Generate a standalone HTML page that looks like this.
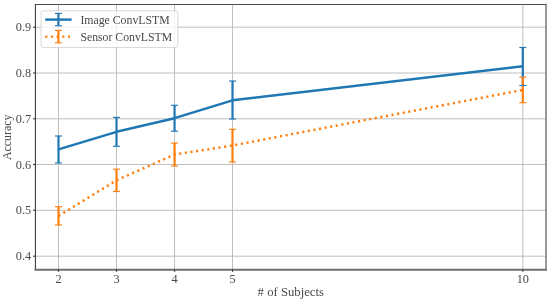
<!DOCTYPE html>
<html lang="en"><head><meta charset="utf-8"><title>Accuracy vs # of Subjects</title>
<style>html,body{margin:0;padding:0;background:#fff;}svg{display:block;}text{font-family:"Liberation Serif","DejaVu Serif",serif;fill:#4a4a4a;}</style></head><body>
<svg width="550" height="302" viewBox="0 0 550 302">
<rect x="0" y="0" width="550" height="302" fill="#ffffff"/>
<g stroke="#b4b4b4" stroke-width="0.85" fill="none">
<line x1="58.50" y1="4.50" x2="58.50" y2="269.45"/>
<line x1="116.50" y1="4.50" x2="116.50" y2="269.45"/>
<line x1="174.55" y1="4.50" x2="174.55" y2="269.45"/>
<line x1="232.50" y1="4.50" x2="232.50" y2="269.45"/>
<line x1="522.80" y1="4.50" x2="522.80" y2="269.45"/>
<line x1="35.45" y1="27.20" x2="545.95" y2="27.20"/>
<line x1="35.45" y1="73.00" x2="545.95" y2="73.00"/>
<line x1="35.45" y1="118.80" x2="545.95" y2="118.80"/>
<line x1="35.45" y1="164.50" x2="545.95" y2="164.50"/>
<line x1="35.45" y1="210.30" x2="545.95" y2="210.30"/>
<line x1="35.45" y1="256.20" x2="545.95" y2="256.20"/>
</g>
<g stroke="#1f77b4" stroke-width="2.20" fill="none">
<line x1="58.50" y1="136.00" x2="58.50" y2="163.00"/>
<line x1="116.50" y1="117.40" x2="116.50" y2="146.30"/>
<line x1="174.55" y1="105.30" x2="174.55" y2="131.20"/>
<line x1="232.50" y1="81.00" x2="232.50" y2="119.00"/>
<line x1="522.80" y1="47.50" x2="522.80" y2="85.50"/>
</g>
<g stroke="#ff7f0e" stroke-width="2.20" fill="none">
<line x1="58.50" y1="206.70" x2="58.50" y2="225.00"/>
<line x1="116.50" y1="169.20" x2="116.50" y2="191.50"/>
<line x1="174.55" y1="143.10" x2="174.55" y2="166.00"/>
<line x1="232.50" y1="129.30" x2="232.50" y2="162.00"/>
<line x1="522.80" y1="77.20" x2="522.80" y2="102.70"/>
</g>
<polyline points="58.50,149.40 116.50,131.80 174.55,118.20 232.50,100.30 522.80,66.30" fill="none" stroke="#1f77b4" stroke-width="2.45" stroke-linejoin="round"/>
<g stroke="#1f77b4" stroke-width="1.15" fill="none">
<line x1="55.00" y1="136.00" x2="62.00" y2="136.00"/>
<line x1="55.00" y1="163.00" x2="62.00" y2="163.00"/>
<line x1="113.00" y1="117.40" x2="120.00" y2="117.40"/>
<line x1="113.00" y1="146.30" x2="120.00" y2="146.30"/>
<line x1="171.05" y1="105.30" x2="178.05" y2="105.30"/>
<line x1="171.05" y1="131.20" x2="178.05" y2="131.20"/>
<line x1="229.00" y1="81.00" x2="236.00" y2="81.00"/>
<line x1="229.00" y1="119.00" x2="236.00" y2="119.00"/>
<line x1="519.30" y1="47.50" x2="526.30" y2="47.50"/>
<line x1="519.30" y1="85.50" x2="526.30" y2="85.50"/>
</g>
<polyline points="58.50,216.00 116.50,180.30 174.55,154.50 232.50,145.50 522.80,89.90" fill="none" stroke="#ff7f0e" stroke-width="2.45" stroke-linejoin="round" stroke-dasharray="2.15 3.53"/>
<g stroke="#ff7f0e" stroke-width="1.15" fill="none">
<line x1="55.00" y1="206.70" x2="62.00" y2="206.70"/>
<line x1="55.00" y1="225.00" x2="62.00" y2="225.00"/>
<line x1="113.00" y1="169.20" x2="120.00" y2="169.20"/>
<line x1="113.00" y1="191.50" x2="120.00" y2="191.50"/>
<line x1="171.05" y1="143.10" x2="178.05" y2="143.10"/>
<line x1="171.05" y1="166.00" x2="178.05" y2="166.00"/>
<line x1="229.00" y1="129.30" x2="236.00" y2="129.30"/>
<line x1="229.00" y1="162.00" x2="236.00" y2="162.00"/>
<line x1="519.30" y1="77.20" x2="526.30" y2="77.20"/>
<line x1="519.30" y1="102.70" x2="526.30" y2="102.70"/>
</g>
<g fill="none" stroke-linecap="square">
<line x1="35.45" y1="4.50" x2="35.45" y2="269.75" stroke="#444444" stroke-width="1.15"/>
<line x1="35.45" y1="4.50" x2="546.00" y2="4.50" stroke="#4c4c4c" stroke-width="1.15"/>
<line x1="35.45" y1="269.75" x2="546.00" y2="269.75" stroke="#6e6e6e" stroke-width="1.8"/>
<line x1="546.00" y1="4.50" x2="546.00" y2="269.75" stroke="#7c7c7c" stroke-width="1.55"/>
</g>
<g stroke="#333333" stroke-width="1.15">
<line x1="58.50" y1="269.45" x2="58.50" y2="271.75"/>
<line x1="116.50" y1="269.45" x2="116.50" y2="271.75"/>
<line x1="174.55" y1="269.45" x2="174.55" y2="271.75"/>
<line x1="232.50" y1="269.45" x2="232.50" y2="271.75"/>
<line x1="522.80" y1="269.45" x2="522.80" y2="271.75"/>
<line x1="33.15" y1="27.20" x2="35.45" y2="27.20"/>
<line x1="33.15" y1="73.00" x2="35.45" y2="73.00"/>
<line x1="33.15" y1="118.80" x2="35.45" y2="118.80"/>
<line x1="33.15" y1="164.50" x2="35.45" y2="164.50"/>
<line x1="33.15" y1="210.30" x2="35.45" y2="210.30"/>
<line x1="33.15" y1="256.20" x2="35.45" y2="256.20"/>
</g>
<g font-size="12.30" text-anchor="middle">
<text x="58.50" y="282.7">2</text>
<text x="116.50" y="282.7">3</text>
<text x="174.55" y="282.7">4</text>
<text x="232.50" y="282.7">5</text>
<text x="522.80" y="282.7">10</text>
</g>
<g font-size="12.30" text-anchor="end">
<text x="31.2" y="31.35">0.9</text>
<text x="31.2" y="77.15">0.8</text>
<text x="31.2" y="122.95">0.7</text>
<text x="31.2" y="168.65">0.6</text>
<text x="31.2" y="214.45">0.5</text>
<text x="31.2" y="260.35">0.4</text>
</g>
<text x="290.8" y="296" font-size="12.60" text-anchor="middle" textLength="66.4" lengthAdjust="spacingAndGlyphs"># of Subjects</text>
<text transform="translate(11.0,137.3) rotate(-90)" font-size="12.60" text-anchor="middle" textLength="45.6" lengthAdjust="spacingAndGlyphs">Accuracy</text>
<rect x="41.1" y="10.8" width="136.7" height="36.7" rx="2.2" ry="2.2" fill="#ffffff" fill-opacity="0.8" stroke="#cccccc" stroke-opacity="0.8" stroke-width="0.9"/>
<line x1="58.4" y1="13.40" x2="58.4" y2="25.80" stroke="#1f77b4" stroke-width="2.20"/>
<line x1="58.4" y1="30.40" x2="58.4" y2="42.80" stroke="#ff7f0e" stroke-width="2.20"/>
<line x1="45.2" y1="19.60" x2="71.6" y2="19.60" stroke="#1f77b4" stroke-width="2.45"/>
<line x1="45.2" y1="36.60" x2="71.6" y2="36.60" stroke="#ff7f0e" stroke-width="2.45" stroke-dasharray="2.15 3.53"/>
<g stroke="#1f77b4" stroke-width="1.15">
<line x1="54.90" y1="13.40" x2="61.90" y2="13.40"/>
<line x1="54.90" y1="25.80" x2="61.90" y2="25.80"/>
</g>
<g stroke="#ff7f0e" stroke-width="1.15">
<line x1="54.90" y1="30.40" x2="61.90" y2="30.40"/>
<line x1="54.90" y1="42.80" x2="61.90" y2="42.80"/>
</g>
<text x="80.4" y="24" font-size="12.60" textLength="89.3" lengthAdjust="spacingAndGlyphs">Image ConvLSTM</text>
<text x="80.4" y="41" font-size="12.60" textLength="91.8" lengthAdjust="spacingAndGlyphs">Sensor ConvLSTM</text>
</svg></body></html>
